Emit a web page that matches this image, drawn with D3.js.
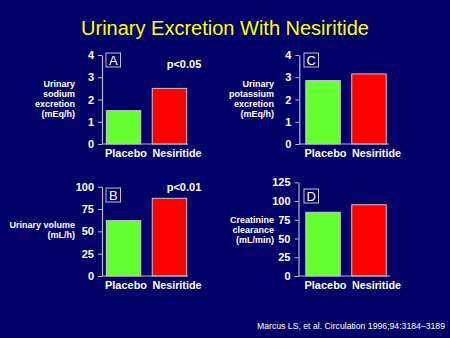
<!DOCTYPE html>
<html>
<head>
<meta charset="utf-8">
<script src="https://cdn.jsdelivr.net/npm/d3@7"></script>
<style>
html,body{margin:0;padding:0;background:#000066;}
svg{display:block;}
text{font-family:"Liberation Sans",Arial,sans-serif;}
</style>
</head>
<body>
<svg id="c" width="450" height="338"></svg>
<script>
// ---- data ----
const categories = ["Placebo", "Nesiritide"];
const sodiumValues = [1.5, 2.5];
const potassiumValues = [2.85, 3.15];
const volumeValues = [62, 87];
const creatinineValues = [85, 95];
const ticksAC = [0, 1, 2, 3, 4];
const ticksB = [0, 25, 50, 75, 100];
const ticksD = [0, 25, 50, 75, 100, 125];
const panelLetters = ["A", "B", "C", "D"];
const pValues = ["p<0.05", "p<0.01", "", ""];
const yTitles = [
  ["Urinary", "sodium", "excretion", "(mEq/h)"],
  ["Urinary volume", "(mL/h)"],
  ["Urinary", "potassium", "excretion", "(mEq/h)"],
  ["Creatinine", "clearance", "(mL/min)"]
];
const chartTitle = "Urinary Excretion With Nesiritide";
const citation = "Marcus LS, et al. Circulation 1996;94:3184\u20133189";

const colors = ["#66ff33", "#ff0000"];
// label layout: horizontal offset from bar centre and fitted width
const catDx = [2.5, 7.5];
const catWidth = [42, 49];

const svg = d3.select("#c");
svg.append("rect").attr("width", 450).attr("height", 338).attr("fill", "#000066");

svg.append("text").attr("x", 225).attr("y", 35).attr("text-anchor", "middle")
  .attr("fill", "#ffff00").attr("font-size", 20).text(chartTitle);

svg.append("text").attr("x", 445).attr("y", 329).attr("text-anchor", "end")
  .attr("fill", "#ffffff").attr("font-size", 8.5).attr("textLength", 188).attr("lengthAdjust", "spacingAndGlyphs")
  .text(citation);

// layout (positions only)
const panels = [
  {values: sodiumValues, ticks: ticksAC, domain: [0, 4], ax: 102, xr: [104, 189], baseEnd: 188, yr: [144, 55], titleX: 75, titleY: 86.5, lbl: [106, 53], title: yTitles[0], letter: panelLetters[0], p: pValues[0], pY: 68},
  {values: volumeValues, ticks: ticksB, domain: [0, 100], ax: 102, xr: [104, 189], baseEnd: 188, yr: [276, 186.7], titleX: 75, titleY: 228, lbl: [106, 188], title: yTitles[1], letter: panelLetters[1], p: pValues[1], pY: 190.5},
  {values: potassiumValues, ticks: ticksAC, domain: [0, 4], ax: 299.3, xr: [303.5, 388.5], baseEnd: 389, yr: [144, 55], titleX: 274, titleY: 86.5, lbl: [304, 53], title: yTitles[2], letter: panelLetters[2], p: pValues[2], pY: 68},
  {values: creatinineValues, ticks: ticksD, domain: [0, 125], ax: 298.5, xr: [303.5, 388.5], baseEnd: 390, yr: [276, 182.3], titleX: 274, titleY: 223, lbl: [304, 189], title: yTitles[3], letter: panelLetters[3], p: pValues[3], pY: 0}
];

const axisColor = "#b8b8cc";

panels.forEach(p => {
  const g = svg.append("g");
  const y = d3.scaleLinear().domain(p.domain).range(p.yr);
  const x = d3.scaleBand().domain(categories).range(p.xr).paddingInner(0.25).paddingOuter(0.05);

  // bars
  g.selectAll("rect.bar").data(p.values).enter().append("rect")
    .attr("class", "bar")
    .attr("x", (d, i) => x(categories[i]))
    .attr("width", x.bandwidth())
    .attr("y", d => y(d))
    .attr("height", d => y(0) - y(d))
    .attr("fill", (d, i) => colors[i])
    .attr("stroke", "#c8c8d0").attr("stroke-width", 1);

  // y axis
  const ya = g.append("g").attr("transform", `translate(${p.ax},0)`)
    .call(d3.axisLeft(y).tickValues(p.ticks).tickSize(4).tickSizeOuter(0).tickPadding(4).tickFormat(d3.format("d")));
  ya.select(".domain").attr("stroke", axisColor).attr("stroke-width", 1.2);
  ya.selectAll(".tick line").attr("stroke", axisColor);
  ya.selectAll(".tick text").attr("fill", "#ffffff").attr("font-size", 11).attr("font-weight", "bold")
    .attr("font-family", "'Liberation Sans',Arial,sans-serif");

  // baseline
  g.append("line").attr("x1", p.ax).attr("x2", p.baseEnd).attr("y1", y(0)).attr("y2", y(0))
    .attr("stroke", axisColor).attr("stroke-width", 1.2);

  // category labels
  g.selectAll("text.cat").data(categories).enter().append("text")
    .attr("class", "cat")
    .attr("x", (d, i) => x(d) + x.bandwidth() / 2 + catDx[i])
    .attr("y", y(0) + 13)
    .attr("text-anchor", "middle").attr("fill", "#ffffff").attr("font-size", 11).attr("font-weight", "bold")
    .attr("textLength", (d, i) => catWidth[i]).attr("lengthAdjust", "spacingAndGlyphs")
    .text(d => d);

  // y title
  const t = g.append("text").attr("text-anchor", "end").attr("fill", "#ffffff")
    .attr("font-size", 9).attr("font-weight", "bold");
  p.title.forEach((line, i) => {
    t.append("tspan").attr("x", p.titleX).attr("y", p.titleY + i * 10).text(line);
  });

  // letter box
  g.append("rect").attr("x", p.lbl[0]).attr("y", p.lbl[1]).attr("width", 14.5).attr("height", 14)
    .attr("fill", "none").attr("stroke", "#c0c0d0").attr("stroke-width", 1);
  g.append("text").attr("x", p.lbl[0] + 7.25).attr("y", p.lbl[1] + 11.5).attr("text-anchor", "middle")
    .attr("fill", "#ffffff").attr("font-size", 13).text(p.letter);

  // p value
  if (p.p) {
    g.append("text").attr("x", 184).attr("y", p.pY).attr("text-anchor", "middle")
      .attr("fill", "#ffffff").attr("font-size", 11).attr("font-weight", "bold").text(p.p);
  }
});
</script>
</body>
</html>
